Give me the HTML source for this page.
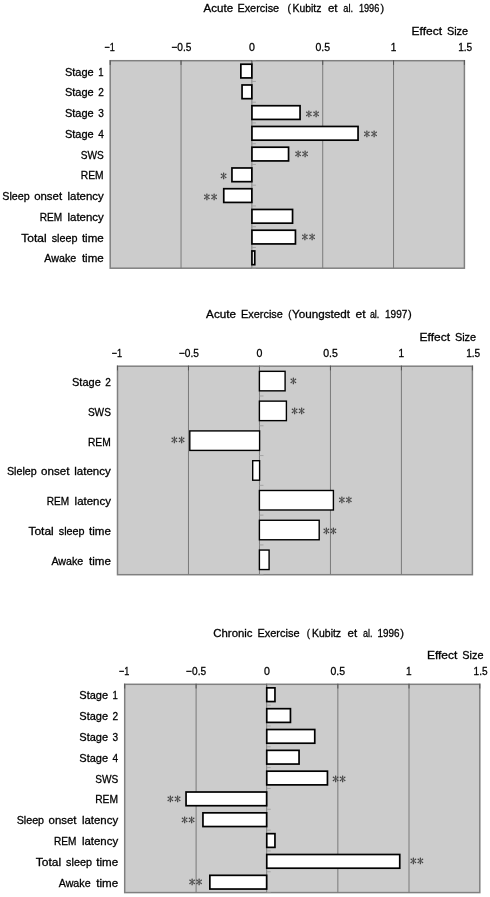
<!DOCTYPE html>
<html lang="en">
<head>
<meta charset="utf-8">
<title>Effect sizes of exercise on sleep</title>
<style>
html,body{margin:0;padding:0;background:#fff;}
body{width:490px;height:897px;overflow:hidden;}
svg{display:block;}
text{font-family:"Liberation Sans",sans-serif;font-size:11.4px;fill:#000;stroke:#000;stroke-width:0.3px;}
text.st{font-family:"IPAGothic","Liberation Mono",monospace;font-size:13.5px;letter-spacing:0.3px;fill:#3c3c3c;stroke:#3c3c3c;stroke-width:0.12px;}
</style>
</head>
<body>
<svg width="490" height="897" viewBox="0 0 490 897">
<rect x="0" y="0" width="490" height="897" fill="#ffffff"/>
<text y="12.40"><tspan x="203.60" textLength="29.50" lengthAdjust="spacingAndGlyphs">Acute</tspan> <tspan x="237.40" textLength="41.80" lengthAdjust="spacingAndGlyphs">Exercise</tspan> <tspan x="287.60" textLength="3.40" lengthAdjust="spacingAndGlyphs">(</tspan><tspan x="292.50" textLength="28.90" lengthAdjust="spacingAndGlyphs">Kubitz</tspan> <tspan x="327.90" textLength="9.60" lengthAdjust="spacingAndGlyphs">et</tspan> <tspan x="343.30" textLength="9.80" lengthAdjust="spacingAndGlyphs">al.</tspan> <tspan x="358.90" textLength="20.40" lengthAdjust="spacingAndGlyphs">1996</tspan><tspan x="380.40" textLength="3.60" lengthAdjust="spacingAndGlyphs">)</tspan></text>
<text y="35.20"><tspan x="411.50" textLength="30.50" lengthAdjust="spacingAndGlyphs">Effect</tspan> <tspan x="446.90" textLength="21.20" lengthAdjust="spacingAndGlyphs">Size</tspan></text>
<text x="109.60" y="51.30" text-anchor="middle" textLength="10.4" lengthAdjust="spacingAndGlyphs">−1</text>
<text x="181.44" y="51.30" text-anchor="middle" textLength="20.0" lengthAdjust="spacingAndGlyphs">−0.5</text>
<text x="251.98" y="51.30" text-anchor="middle" textLength="5.9" lengthAdjust="spacingAndGlyphs">0</text>
<text x="322.72" y="51.30" text-anchor="middle" textLength="14.6" lengthAdjust="spacingAndGlyphs">0.5</text>
<text x="393.46" y="51.30" text-anchor="middle" textLength="5.6" lengthAdjust="spacingAndGlyphs">1</text>
<text x="465.20" y="51.30" text-anchor="middle" textLength="14.0" lengthAdjust="spacingAndGlyphs">1.5</text>
<rect x="110.20" y="60.70" width="354.20" height="207.50" fill="#cccccc" stroke="#808080" stroke-width="1.5"/>
<line x1="181.04" y1="60.70" x2="181.04" y2="268.20" stroke="#7a7a7a" stroke-width="1"/>
<line x1="251.88" y1="60.70" x2="251.88" y2="268.20" stroke="#7a7a7a" stroke-width="1"/>
<line x1="322.72" y1="60.70" x2="322.72" y2="268.20" stroke="#7a7a7a" stroke-width="1"/>
<line x1="393.56" y1="60.70" x2="393.56" y2="268.20" stroke="#7a7a7a" stroke-width="1"/>
<line x1="110.20" y1="60.10" x2="110.20" y2="64.90" stroke="#555" stroke-width="1"/>
<line x1="181.04" y1="60.10" x2="181.04" y2="64.90" stroke="#555" stroke-width="1"/>
<line x1="251.88" y1="60.10" x2="251.88" y2="64.90" stroke="#555" stroke-width="1"/>
<line x1="322.72" y1="60.10" x2="322.72" y2="64.90" stroke="#555" stroke-width="1"/>
<line x1="393.56" y1="60.10" x2="393.56" y2="64.90" stroke="#555" stroke-width="1"/>
<line x1="464.40" y1="60.10" x2="464.40" y2="64.90" stroke="#555" stroke-width="1"/>
<line x1="251.88" y1="60.70" x2="255.88" y2="60.70" stroke="#9a9a9a" stroke-width="0.8"/>
<line x1="251.88" y1="81.45" x2="255.88" y2="81.45" stroke="#9a9a9a" stroke-width="0.8"/>
<line x1="251.88" y1="102.20" x2="255.88" y2="102.20" stroke="#9a9a9a" stroke-width="0.8"/>
<line x1="251.88" y1="122.95" x2="255.88" y2="122.95" stroke="#9a9a9a" stroke-width="0.8"/>
<line x1="251.88" y1="143.70" x2="255.88" y2="143.70" stroke="#9a9a9a" stroke-width="0.8"/>
<line x1="251.88" y1="164.45" x2="255.88" y2="164.45" stroke="#9a9a9a" stroke-width="0.8"/>
<line x1="251.88" y1="185.20" x2="255.88" y2="185.20" stroke="#9a9a9a" stroke-width="0.8"/>
<line x1="251.88" y1="205.95" x2="255.88" y2="205.95" stroke="#9a9a9a" stroke-width="0.8"/>
<line x1="251.88" y1="226.70" x2="255.88" y2="226.70" stroke="#9a9a9a" stroke-width="0.8"/>
<line x1="251.88" y1="247.45" x2="255.88" y2="247.45" stroke="#9a9a9a" stroke-width="0.8"/>
<line x1="251.88" y1="268.20" x2="255.88" y2="268.20" stroke="#9a9a9a" stroke-width="0.8"/>
<text y="75.67"><tspan x="64.90" textLength="28.80" lengthAdjust="spacingAndGlyphs">Stage</tspan> <tspan x="98.20" textLength="5.30" lengthAdjust="spacingAndGlyphs">1</tspan></text>
<text y="96.42"><tspan x="64.90" textLength="28.80" lengthAdjust="spacingAndGlyphs">Stage</tspan> <tspan x="98.20" textLength="5.60" lengthAdjust="spacingAndGlyphs">2</tspan></text>
<text y="117.17"><tspan x="64.90" textLength="28.80" lengthAdjust="spacingAndGlyphs">Stage</tspan> <tspan x="98.20" textLength="5.60" lengthAdjust="spacingAndGlyphs">3</tspan></text>
<text y="137.92"><tspan x="64.90" textLength="28.80" lengthAdjust="spacingAndGlyphs">Stage</tspan> <tspan x="98.20" textLength="5.60" lengthAdjust="spacingAndGlyphs">4</tspan></text>
<text y="158.67"><tspan x="80.80" textLength="23.00" lengthAdjust="spacingAndGlyphs">SWS</tspan></text>
<text y="179.42"><tspan x="80.80" textLength="22.80" lengthAdjust="spacingAndGlyphs">REM</tspan></text>
<text y="200.17"><tspan x="2.30" textLength="27.40" lengthAdjust="spacingAndGlyphs">Sleep</tspan> <tspan x="34.20" textLength="27.90" lengthAdjust="spacingAndGlyphs">onset</tspan> <tspan x="67.50" textLength="36.30" lengthAdjust="spacingAndGlyphs">latency</tspan></text>
<text y="220.92"><tspan x="39.70" textLength="22.40" lengthAdjust="spacingAndGlyphs">REM</tspan> <tspan x="67.50" textLength="36.30" lengthAdjust="spacingAndGlyphs">latency</tspan></text>
<text y="241.67"><tspan x="21.30" textLength="25.40" lengthAdjust="spacingAndGlyphs">Total</tspan> <tspan x="51.70" textLength="25.80" lengthAdjust="spacingAndGlyphs">sleep</tspan> <tspan x="81.90" textLength="21.90" lengthAdjust="spacingAndGlyphs">time</tspan></text>
<text y="262.43"><tspan x="44.30" textLength="31.90" lengthAdjust="spacingAndGlyphs">Awake</tspan> <tspan x="81.90" textLength="21.90" lengthAdjust="spacingAndGlyphs">time</tspan></text>
<rect x="240.85" y="64.22" width="11.00" height="13.70" fill="#fff" stroke="#000" stroke-width="1.7"/>
<rect x="242.05" y="84.97" width="9.80" height="13.70" fill="#fff" stroke="#000" stroke-width="1.7"/>
<rect x="251.95" y="105.72" width="48.10" height="13.70" fill="#fff" stroke="#000" stroke-width="1.7"/>
<rect x="251.95" y="126.47" width="106.10" height="13.70" fill="#fff" stroke="#000" stroke-width="1.7"/>
<rect x="251.95" y="147.22" width="36.60" height="13.70" fill="#fff" stroke="#000" stroke-width="1.7"/>
<rect x="231.95" y="167.97" width="19.90" height="13.70" fill="#fff" stroke="#000" stroke-width="1.7"/>
<rect x="223.75" y="188.72" width="28.10" height="13.70" fill="#fff" stroke="#000" stroke-width="1.7"/>
<rect x="251.95" y="209.47" width="40.60" height="13.70" fill="#fff" stroke="#000" stroke-width="1.7"/>
<rect x="251.95" y="230.22" width="43.50" height="13.70" fill="#fff" stroke="#000" stroke-width="1.7"/>
<rect x="251.95" y="250.97" width="2.80" height="13.70" fill="#fff" stroke="#000" stroke-width="1.7"/>
<text class="st" x="305.60" y="118.98">**</text>
<text class="st" x="363.60" y="139.12">**</text>
<text class="st" x="294.70" y="159.17">**</text>
<text class="st" x="220.20" y="180.62">*</text>
<text class="st" x="203.60" y="202.38">**</text>
<text class="st" x="301.60" y="242.47">**</text>
<text y="318.20"><tspan x="206.10" textLength="29.90" lengthAdjust="spacingAndGlyphs">Acute</tspan> <tspan x="241.10" textLength="41.80" lengthAdjust="spacingAndGlyphs">Exercise</tspan> <tspan x="288.20" textLength="3.20" lengthAdjust="spacingAndGlyphs">(</tspan><tspan x="292.10" textLength="58.00" lengthAdjust="spacingAndGlyphs">Youngstedt</tspan> <tspan x="355.60" textLength="10.00" lengthAdjust="spacingAndGlyphs">et</tspan> <tspan x="369.90" textLength="9.40" lengthAdjust="spacingAndGlyphs">al.</tspan> <tspan x="385.00" textLength="22.30" lengthAdjust="spacingAndGlyphs">1997</tspan><tspan x="407.90" textLength="3.70" lengthAdjust="spacingAndGlyphs">)</tspan></text>
<text y="340.60"><tspan x="419.50" textLength="30.50" lengthAdjust="spacingAndGlyphs">Effect</tspan> <tspan x="454.90" textLength="21.20" lengthAdjust="spacingAndGlyphs">Size</tspan></text>
<text x="116.90" y="357.00" text-anchor="middle" textLength="10.4" lengthAdjust="spacingAndGlyphs">−1</text>
<text x="188.88" y="357.00" text-anchor="middle" textLength="20.0" lengthAdjust="spacingAndGlyphs">−0.5</text>
<text x="259.56" y="357.00" text-anchor="middle" textLength="5.9" lengthAdjust="spacingAndGlyphs">0</text>
<text x="330.44" y="357.00" text-anchor="middle" textLength="14.6" lengthAdjust="spacingAndGlyphs">0.5</text>
<text x="401.32" y="357.00" text-anchor="middle" textLength="5.6" lengthAdjust="spacingAndGlyphs">1</text>
<text x="473.20" y="357.00" text-anchor="middle" textLength="14.0" lengthAdjust="spacingAndGlyphs">1.5</text>
<rect x="117.50" y="366.20" width="354.90" height="208.50" fill="#cccccc" stroke="#808080" stroke-width="1.5"/>
<line x1="188.48" y1="366.20" x2="188.48" y2="574.70" stroke="#7a7a7a" stroke-width="1"/>
<line x1="259.46" y1="366.20" x2="259.46" y2="574.70" stroke="#7a7a7a" stroke-width="1"/>
<line x1="330.44" y1="366.20" x2="330.44" y2="574.70" stroke="#7a7a7a" stroke-width="1"/>
<line x1="401.42" y1="366.20" x2="401.42" y2="574.70" stroke="#7a7a7a" stroke-width="1"/>
<line x1="117.50" y1="365.60" x2="117.50" y2="370.40" stroke="#555" stroke-width="1"/>
<line x1="188.48" y1="365.60" x2="188.48" y2="370.40" stroke="#555" stroke-width="1"/>
<line x1="259.46" y1="365.60" x2="259.46" y2="370.40" stroke="#555" stroke-width="1"/>
<line x1="330.44" y1="365.60" x2="330.44" y2="370.40" stroke="#555" stroke-width="1"/>
<line x1="401.42" y1="365.60" x2="401.42" y2="370.40" stroke="#555" stroke-width="1"/>
<line x1="472.40" y1="365.60" x2="472.40" y2="370.40" stroke="#555" stroke-width="1"/>
<line x1="259.46" y1="366.20" x2="263.46" y2="366.20" stroke="#9a9a9a" stroke-width="0.8"/>
<line x1="259.46" y1="395.99" x2="263.46" y2="395.99" stroke="#9a9a9a" stroke-width="0.8"/>
<line x1="259.46" y1="425.77" x2="263.46" y2="425.77" stroke="#9a9a9a" stroke-width="0.8"/>
<line x1="259.46" y1="455.56" x2="263.46" y2="455.56" stroke="#9a9a9a" stroke-width="0.8"/>
<line x1="259.46" y1="485.34" x2="263.46" y2="485.34" stroke="#9a9a9a" stroke-width="0.8"/>
<line x1="259.46" y1="515.13" x2="263.46" y2="515.13" stroke="#9a9a9a" stroke-width="0.8"/>
<line x1="259.46" y1="544.91" x2="263.46" y2="544.91" stroke="#9a9a9a" stroke-width="0.8"/>
<line x1="259.46" y1="574.70" x2="263.46" y2="574.70" stroke="#9a9a9a" stroke-width="0.8"/>
<text y="385.99"><tspan x="72.00" textLength="28.80" lengthAdjust="spacingAndGlyphs">Stage</tspan> <tspan x="105.30" textLength="5.60" lengthAdjust="spacingAndGlyphs">2</tspan></text>
<text y="415.78"><tspan x="87.90" textLength="23.00" lengthAdjust="spacingAndGlyphs">SWS</tspan></text>
<text y="445.56"><tspan x="87.90" textLength="22.80" lengthAdjust="spacingAndGlyphs">REM</tspan></text>
<text y="475.35"><tspan x="6.90" textLength="29.80" lengthAdjust="spacingAndGlyphs">Slelep</tspan> <tspan x="41.10" textLength="28.40" lengthAdjust="spacingAndGlyphs">onset</tspan> <tspan x="74.30" textLength="36.50" lengthAdjust="spacingAndGlyphs">latency</tspan></text>
<text y="505.14"><tspan x="46.80" textLength="22.40" lengthAdjust="spacingAndGlyphs">REM</tspan> <tspan x="74.60" textLength="36.30" lengthAdjust="spacingAndGlyphs">latency</tspan></text>
<text y="534.92"><tspan x="28.40" textLength="25.40" lengthAdjust="spacingAndGlyphs">Total</tspan> <tspan x="58.80" textLength="25.80" lengthAdjust="spacingAndGlyphs">sleep</tspan> <tspan x="89.00" textLength="21.90" lengthAdjust="spacingAndGlyphs">time</tspan></text>
<text y="564.71"><tspan x="51.40" textLength="31.90" lengthAdjust="spacingAndGlyphs">Awake</tspan> <tspan x="89.00" textLength="21.90" lengthAdjust="spacingAndGlyphs">time</tspan></text>
<rect x="259.40" y="371.34" width="25.70" height="19.50" fill="#fff" stroke="#000" stroke-width="1.4"/>
<rect x="259.40" y="401.13" width="27.00" height="19.50" fill="#fff" stroke="#000" stroke-width="1.4"/>
<rect x="189.80" y="430.91" width="69.80" height="19.50" fill="#fff" stroke="#000" stroke-width="1.4"/>
<rect x="252.70" y="460.70" width="6.90" height="19.50" fill="#fff" stroke="#000" stroke-width="1.4"/>
<rect x="259.40" y="490.49" width="74.00" height="19.50" fill="#fff" stroke="#000" stroke-width="1.4"/>
<rect x="259.40" y="520.27" width="59.80" height="19.50" fill="#fff" stroke="#000" stroke-width="1.4"/>
<rect x="259.40" y="550.06" width="9.70" height="19.50" fill="#fff" stroke="#000" stroke-width="1.4"/>
<text class="st" x="290.10" y="385.79">*</text>
<text class="st" x="291.30" y="416.08">**</text>
<text class="st" x="171.10" y="445.26">**</text>
<text class="st" x="338.40" y="504.64">**</text>
<text class="st" x="323.00" y="536.22">**</text>
<text y="637.10"><tspan x="213.30" textLength="39.20" lengthAdjust="spacingAndGlyphs">Chronic</tspan> <tspan x="257.40" textLength="42.20" lengthAdjust="spacingAndGlyphs">Exercise</tspan> <tspan x="306.80" textLength="3.20" lengthAdjust="spacingAndGlyphs">(</tspan><tspan x="312.10" textLength="29.00" lengthAdjust="spacingAndGlyphs">Kubitz</tspan> <tspan x="347.50" textLength="9.60" lengthAdjust="spacingAndGlyphs">et</tspan> <tspan x="363.10" textLength="9.50" lengthAdjust="spacingAndGlyphs">al.</tspan> <tspan x="377.60" textLength="22.00" lengthAdjust="spacingAndGlyphs">1996</tspan><tspan x="400.30" textLength="3.70" lengthAdjust="spacingAndGlyphs">)</tspan></text>
<text y="658.70"><tspan x="426.90" textLength="30.50" lengthAdjust="spacingAndGlyphs">Effect</tspan> <tspan x="462.30" textLength="21.20" lengthAdjust="spacingAndGlyphs">Size</tspan></text>
<text x="124.10" y="675.30" text-anchor="middle" textLength="10.4" lengthAdjust="spacingAndGlyphs">−1</text>
<text x="196.12" y="675.30" text-anchor="middle" textLength="20.0" lengthAdjust="spacingAndGlyphs">−0.5</text>
<text x="266.84" y="675.30" text-anchor="middle" textLength="5.9" lengthAdjust="spacingAndGlyphs">0</text>
<text x="337.76" y="675.30" text-anchor="middle" textLength="14.6" lengthAdjust="spacingAndGlyphs">0.5</text>
<text x="408.68" y="675.30" text-anchor="middle" textLength="5.6" lengthAdjust="spacingAndGlyphs">1</text>
<text x="480.60" y="675.30" text-anchor="middle" textLength="14.0" lengthAdjust="spacingAndGlyphs">1.5</text>
<rect x="124.70" y="684.30" width="355.10" height="208.30" fill="#cccccc" stroke="#808080" stroke-width="1.5"/>
<line x1="196.10" y1="684.30" x2="196.10" y2="892.60" stroke="#7a7a7a" stroke-width="1"/>
<line x1="266.70" y1="684.30" x2="266.70" y2="892.60" stroke="#7a7a7a" stroke-width="1"/>
<line x1="337.85" y1="684.30" x2="337.85" y2="892.60" stroke="#7a7a7a" stroke-width="1"/>
<line x1="409.00" y1="684.30" x2="409.00" y2="892.60" stroke="#7a7a7a" stroke-width="1"/>
<line x1="124.70" y1="683.70" x2="124.70" y2="688.50" stroke="#555" stroke-width="1"/>
<line x1="196.10" y1="683.70" x2="196.10" y2="688.50" stroke="#555" stroke-width="1"/>
<line x1="266.70" y1="683.70" x2="266.70" y2="688.50" stroke="#555" stroke-width="1"/>
<line x1="337.85" y1="683.70" x2="337.85" y2="688.50" stroke="#555" stroke-width="1"/>
<line x1="409.00" y1="683.70" x2="409.00" y2="688.50" stroke="#555" stroke-width="1"/>
<line x1="479.80" y1="683.70" x2="479.80" y2="688.50" stroke="#555" stroke-width="1"/>
<line x1="266.70" y1="684.30" x2="270.70" y2="684.30" stroke="#9a9a9a" stroke-width="0.8"/>
<line x1="266.70" y1="705.13" x2="270.70" y2="705.13" stroke="#9a9a9a" stroke-width="0.8"/>
<line x1="266.70" y1="725.96" x2="270.70" y2="725.96" stroke="#9a9a9a" stroke-width="0.8"/>
<line x1="266.70" y1="746.79" x2="270.70" y2="746.79" stroke="#9a9a9a" stroke-width="0.8"/>
<line x1="266.70" y1="767.62" x2="270.70" y2="767.62" stroke="#9a9a9a" stroke-width="0.8"/>
<line x1="266.70" y1="788.45" x2="270.70" y2="788.45" stroke="#9a9a9a" stroke-width="0.8"/>
<line x1="266.70" y1="809.28" x2="270.70" y2="809.28" stroke="#9a9a9a" stroke-width="0.8"/>
<line x1="266.70" y1="830.11" x2="270.70" y2="830.11" stroke="#9a9a9a" stroke-width="0.8"/>
<line x1="266.70" y1="850.94" x2="270.70" y2="850.94" stroke="#9a9a9a" stroke-width="0.8"/>
<line x1="266.70" y1="871.77" x2="270.70" y2="871.77" stroke="#9a9a9a" stroke-width="0.8"/>
<line x1="266.70" y1="892.60" x2="270.70" y2="892.60" stroke="#9a9a9a" stroke-width="0.8"/>
<text y="699.31"><tspan x="79.30" textLength="28.80" lengthAdjust="spacingAndGlyphs">Stage</tspan> <tspan x="112.60" textLength="5.30" lengthAdjust="spacingAndGlyphs">1</tspan></text>
<text y="720.14"><tspan x="79.30" textLength="28.80" lengthAdjust="spacingAndGlyphs">Stage</tspan> <tspan x="112.60" textLength="5.60" lengthAdjust="spacingAndGlyphs">2</tspan></text>
<text y="740.98"><tspan x="79.30" textLength="28.80" lengthAdjust="spacingAndGlyphs">Stage</tspan> <tspan x="112.60" textLength="5.60" lengthAdjust="spacingAndGlyphs">3</tspan></text>
<text y="761.80"><tspan x="79.30" textLength="28.80" lengthAdjust="spacingAndGlyphs">Stage</tspan> <tspan x="112.60" textLength="5.60" lengthAdjust="spacingAndGlyphs">4</tspan></text>
<text y="782.63"><tspan x="95.20" textLength="23.00" lengthAdjust="spacingAndGlyphs">SWS</tspan></text>
<text y="803.47"><tspan x="95.20" textLength="22.80" lengthAdjust="spacingAndGlyphs">REM</tspan></text>
<text y="824.29"><tspan x="16.70" textLength="27.40" lengthAdjust="spacingAndGlyphs">Sleep</tspan> <tspan x="48.60" textLength="27.90" lengthAdjust="spacingAndGlyphs">onset</tspan> <tspan x="81.90" textLength="36.30" lengthAdjust="spacingAndGlyphs">latency</tspan></text>
<text y="845.12"><tspan x="54.10" textLength="22.40" lengthAdjust="spacingAndGlyphs">REM</tspan> <tspan x="81.90" textLength="36.30" lengthAdjust="spacingAndGlyphs">latency</tspan></text>
<text y="865.96"><tspan x="35.70" textLength="25.40" lengthAdjust="spacingAndGlyphs">Total</tspan> <tspan x="66.10" textLength="25.80" lengthAdjust="spacingAndGlyphs">sleep</tspan> <tspan x="96.30" textLength="21.90" lengthAdjust="spacingAndGlyphs">time</tspan></text>
<text y="886.78"><tspan x="58.70" textLength="31.90" lengthAdjust="spacingAndGlyphs">Awake</tspan> <tspan x="96.30" textLength="21.90" lengthAdjust="spacingAndGlyphs">time</tspan></text>
<rect x="266.75" y="687.86" width="8.20" height="13.70" fill="#fff" stroke="#000" stroke-width="1.7"/>
<rect x="266.75" y="708.69" width="23.70" height="13.70" fill="#fff" stroke="#000" stroke-width="1.7"/>
<rect x="266.75" y="729.52" width="48.00" height="13.70" fill="#fff" stroke="#000" stroke-width="1.7"/>
<rect x="266.75" y="750.35" width="32.30" height="13.70" fill="#fff" stroke="#000" stroke-width="1.7"/>
<rect x="266.75" y="771.18" width="60.70" height="13.70" fill="#fff" stroke="#000" stroke-width="1.7"/>
<rect x="186.05" y="792.01" width="80.60" height="13.70" fill="#fff" stroke="#000" stroke-width="1.7"/>
<rect x="202.95" y="812.84" width="63.70" height="13.70" fill="#fff" stroke="#000" stroke-width="1.7"/>
<rect x="266.75" y="833.67" width="8.20" height="13.70" fill="#fff" stroke="#000" stroke-width="1.7"/>
<rect x="266.75" y="854.50" width="133.00" height="13.70" fill="#fff" stroke="#000" stroke-width="1.7"/>
<rect x="209.85" y="875.33" width="56.80" height="13.70" fill="#fff" stroke="#000" stroke-width="1.7"/>
<text class="st" x="332.30" y="783.73">**</text>
<text class="st" x="167.10" y="804.16">**</text>
<text class="st" x="181.30" y="825.39">**</text>
<text class="st" x="409.90" y="866.46">**</text>
<text class="st" x="188.70" y="887.48">**</text>
</svg>
</body>
</html>
